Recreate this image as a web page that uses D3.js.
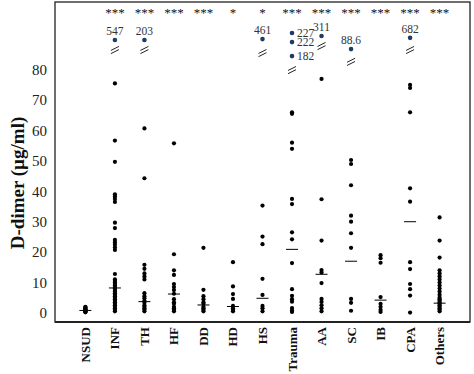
<!DOCTYPE html>
<html>
<head>
<meta charset="utf-8">
<script src="https://cdn.jsdelivr.net/npm/d3@7/dist/d3.min.js"></script>
<style>
  body { margin: 0; background: #fff; }
  svg { display: block; font-family: "Liberation Serif", "Times New Roman", serif; }
</style>
</head>
<body>
<div id="chart"></div>
<script>
// categories and significance marks
var categories = ["NSUD", "INF", "TH", "HF", "DD", "HD", "HS", "Trauma", "AA", "SC", "IB", "CPA", "Others"];
var signif = ["", "***", "***", "***", "***", "*", "*", "***", "***", "***", "***", "***", "***"];
var medians = [0.8, 8.2, 3.7, 6.2, 2.6, 2.1, 4.8, 20.9, 12.7, 17, 4.2, 30, 3.2];

// individual D-dimer values (µg/ml) per group
var nsud = [0.2, 0.4, 0.5, 0.6, 0.7, 0.8, 0.9, 1.0, 1.2, 1.4, 1.6, 1.8, 2.0];
var inf = [75.5, 56.7, 49.7, 39, 38.3, 37.5, 36.5, 29.7, 27.9, 24, 23.2, 22.4, 21.5, 20.7, 12.8, 11, 10.5, 10, 9.5, 9, 8.5, 8, 7.5, 7, 6.5, 6, 5.5, 5, 4.5, 4, 3.5, 3, 2.5, 2, 1.5, 1, 0.5];
var th = [60.7, 44.3, 15.8, 14.5, 13, 12, 11, 6.5, 5.5, 4.8, 4, 3.3, 2.5, 2, 1.5, 1, 0.5];
var hf = [55.8, 19.3, 14, 12.5, 9.5, 8.5, 7.5, 6.3, 4.5, 3.5, 3, 2, 1.5, 1, 0.5];
var dd = [21.4, 7.6, 5.5, 4.5, 3.5, 3, 2, 1.5, 1, 0.5];
var hd = [16.7, 8.7, 6.2, 4.6, 2.3, 1.5, 1, 0.5];
var hs = [35.3, 25.1, 22.6, 11.2, 5.9, 2.3, 1.5, 0.5];
var trauma = [66, 65.5, 56, 54, 37.5, 35.8, 26.5, 24.2, 16.4, 7.8, 5.6, 4.5, 3.7, 1.6, 0.8, 0.3];
var aa = [77, 37.4, 23.8, 14.1, 13.3, 9.8, 4.6, 3.6, 2.5, 1.5, 0.5];
var sc = [50.3, 49, 42, 32, 30, 26.2, 21.4, 4.6, 3.3, 0.7];
var ib = [19, 18, 16.5, 5.2, 3, 2, 1, 0.3];
var cpa = [75, 74, 66, 41, 36.6, 16.7, 14.4, 9.5, 7.8, 5.7, 0.1];
var others = [31.4, 23.8, 18.2, 14, 13, 12, 11, 10, 9, 8, 7, 6, 5, 4.5, 4, 3.5, 3, 2.5, 2, 1.5, 1, 0.5];
var groups = [nsud, inf, th, hf, dd, hd, hs, trauma, aa, sc, ib, cpa, others];

// off-scale values, drawn above the axis break
var outCats = ["INF", "TH", "HS", "Trauma", "Trauma", "Trauma", "AA", "SC", "CPA"];
var outLabels = ["547", "203", "461", "227", "222", "182", "311", "88.6", "682"];
var outPlotAt = [89.8, 89.8, 90.1, 92.1, 89.1, 84.5, 91.1, 86.8, 90.5];
var outSide = ["top", "top", "top", "right", "right", "right", "top", "top", "top"];
var breakCats = ["INF", "TH", "HS", "Trauma", "AA", "SC", "CPA"];
var breakAt = [86.5, 86.5, 85.5, 79.9, 87.8, 82.6, 86.5];

var yTicks = [0, 10, 20, 30, 40, 50, 60, 70, 80];

var width = 474, height = 374;
var mLeft = 55, mRight = 470, mTop = 2, mBottom = 322;

var svg = d3.select("#chart").append("svg")
    .attr("width", width)
    .attr("height", height);

var x = d3.scalePoint()
    .domain(categories)
    .range([mLeft, mRight])
    .padding(1.03);

var y = d3.scaleLinear()
    .domain([-3, 102.3])
    .range([mBottom, mTop]);

// y axis, no tick marks
var yAxis = svg.append("g")
    .attr("transform", "translate(" + mLeft + ",0)")
    .call(d3.axisLeft(y).tickValues(yTicks).tickSize(0).tickPadding(8));
yAxis.select(".domain").remove();
yAxis.selectAll("text")
    .style("font-family", "Liberation Serif, serif")
    .style("font-size", "15px")
    .attr("fill", "#222");

svg.append("text")
    .attr("transform", "translate(17,183) rotate(-90)")
    .attr("text-anchor", "middle")
    .attr("dominant-baseline", "central")
    .style("font-size", "19px")
    .style("font-weight", "bold")
    .attr("fill", "#111")
    .text("D-dimer (µg/ml)");

// category labels
svg.selectAll("text.cat")
    .data(categories)
    .enter().append("text")
    .attr("class", "cat")
    .attr("transform", function (d) {
        return "translate(" + x(d) + ",327) rotate(-90)";
    })
    .attr("text-anchor", "end")
    .attr("dominant-baseline", "central")
    .style("font-size", "13px")
    .style("font-weight", "bold")
    .attr("fill", "#111")
    .text(function (d) { return d; });

// dots
var pts = [];
groups.forEach(function (g, i) {
    g.forEach(function (v) { pts.push({ cat: categories[i], v: v }); });
});
svg.selectAll("circle.pt")
    .data(pts)
    .enter().append("circle")
    .attr("class", "pt")
    .attr("cx", function (d) { return x(d.cat); })
    .attr("cy", function (d) { return y(d.v); })
    .attr("r", 2.1)
    .attr("fill", "#000");

// median lines
svg.selectAll("line.med")
    .data(medians)
    .enter().append("line")
    .attr("class", "med")
    .attr("x1", function (d, i) { return x(categories[i]) - 6; })
    .attr("x2", function (d, i) { return x(categories[i]) + 6; })
    .attr("y1", function (d) { return y(d); })
    .attr("y2", function (d) { return y(d); })
    .attr("stroke", "#000")
    .attr("stroke-width", 1);

// significance stars
svg.selectAll("text.sig")
    .data(signif)
    .enter().append("text")
    .attr("class", "sig")
    .attr("x", function (d, i) { return x(categories[i]); })
    .attr("y", 17)
    .attr("text-anchor", "middle")
    .style("font-size", "13px")
    .attr("fill", "#111")
    .text(function (d) { return d; });

// off-scale points
svg.selectAll("circle.out")
    .data(outPlotAt)
    .enter().append("circle")
    .attr("class", "out")
    .attr("cx", function (d, i) { return x(outCats[i]); })
    .attr("cy", function (d) { return y(d); })
    .attr("r", 2.3)
    .attr("fill", "#1f3a63");

svg.selectAll("text.outlab")
    .data(outLabels)
    .enter().append("text")
    .attr("class", "outlab")
    .attr("x", function (d, i) {
        return outSide[i] === "right" ? x(outCats[i]) + 5 : x(outCats[i]);
    })
    .attr("y", function (d, i) {
        return outSide[i] === "right" ? y(outPlotAt[i]) : y(outPlotAt[i]) - 9;
    })
    .attr("text-anchor", function (d, i) { return outSide[i] === "right" ? "start" : "middle"; })
    .attr("dominant-baseline", "central")
    .style("font-size", "11.5px")
    .attr("fill", "#333")
    .text(function (d) { return d; });

// axis break marks "//"
breakAt.forEach(function (v, i) {
    var cx = x(breakCats[i]), cy = y(v);
    [-1.6, 1.6].forEach(function (o) {
        svg.append("line")
            .attr("x1", cx - 4).attr("y1", cy + 2 + o)
            .attr("x2", cx + 4).attr("y2", cy - 2 + o)
            .attr("stroke", "#222")
            .attr("stroke-width", 1);
    });
});

// frame
svg.append("rect")
    .attr("x", mLeft).attr("y", mTop)
    .attr("width", mRight - mLeft).attr("height", mBottom - mTop)
    .attr("fill", "none")
    .attr("stroke", "#222")
    .attr("stroke-width", 1.3);
svg.append("line")
    .attr("x1", mLeft).attr("x2", mRight)
    .attr("y1", mBottom).attr("y2", mBottom)
    .attr("stroke", "#222")
    .attr("stroke-width", 2);
</script>
</body>
</html>
